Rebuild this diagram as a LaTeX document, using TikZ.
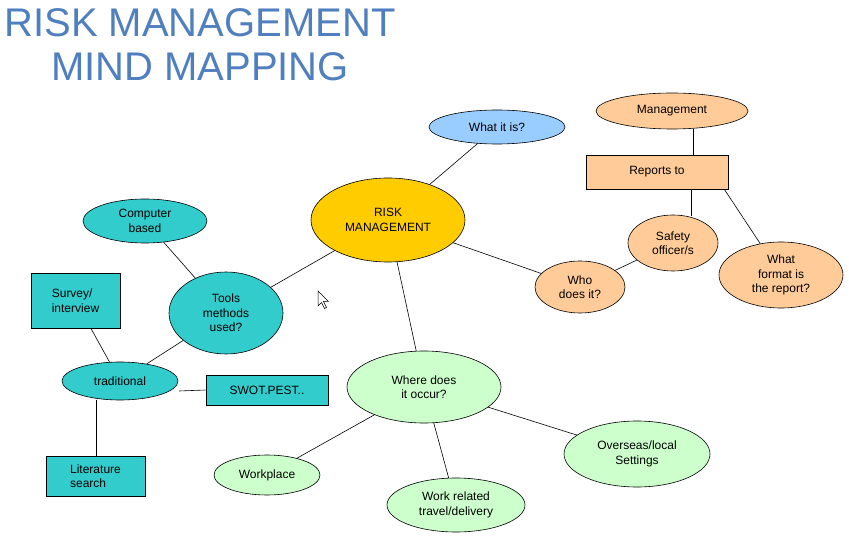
\documentclass[tikz,border=0pt]{standalone}
\usepackage{fontspec}
\setmainfont{Liberation Sans}
\usetikzlibrary{shapes.geometric}
\definecolor{titleblue}{HTML}{4F7FBF}
\definecolor{gold}{HTML}{FFCC00}
\definecolor{lblue}{HTML}{99CCFF}
\definecolor{peach}{HTML}{FFCC99}
\definecolor{teal}{HTML}{33CCCC}
\definecolor{lgreen}{HTML}{CCFFCC}
\tikzset{
  el/.style={ellipse,draw=black,line width=0.6pt,inner sep=0pt,align=center,font=\fontsize{12}{14.5}\selectfont},
  bx/.style={rectangle,draw=black,line width=0.6pt,inner sep=0pt,align=left,font=\fontsize{12}{14.5}\selectfont},
  ln/.style={line width=0.6pt,draw=black}
}
\begin{document}
\begin{tikzpicture}[x=1pt,y=-1pt]
\useasboundingbox (0,0) rectangle (849,537);
\node[titleblue,font=\fontsize{40}{44}\selectfont,align=center] (title) at (200,45) {RISK MANAGEMENT\\MIND MAPPING};

\node[el,fill=gold,minimum width=154,minimum height=84] (rm) at (388,220) {RISK\\MANAGEMENT};
\node[el,fill=lblue,minimum width=136,minimum height=34] (what) at (497,127) {What it is?};
\node[el,fill=peach,minimum width=152,minimum height=36] (mgmt) at (672,111) {Management};
\node[bx,fill=peach,minimum width=142,minimum height=34,align=center] (rep) at (657,172) {Reports to};
\node[el,fill=peach,minimum width=90,minimum height=56] (safe) at (673,243) {Safety\\officer/s};
\node[el,fill=peach,minimum width=124,minimum height=66] (fmt) at (781,275) {What\\format is\\the report?};
\node[el,fill=peach,minimum width=90,minimum height=52] (who) at (580,287) {Who\\does it?};
\node[el,fill=teal,minimum width=124,minimum height=44] (comp) at (145,221) {Computer\\based};
\node[el,fill=teal,minimum width=114,minimum height=82] (tools) at (226,313) {Tools\\methods\\used?};
\node[bx,fill=teal,minimum width=89,minimum height=55] (surv) at (75.5,300.5) {Survey/\\interview};
\node[el,fill=teal,minimum width=116,minimum height=38] (trad) at (120,381) {traditional};
\node[bx,fill=teal,minimum width=122,minimum height=30,align=center] (swot) at (267,390) {SWOT.PEST..};
\node[bx,fill=teal,minimum width=99,minimum height=40] (lit) at (95.5,476) {Literature\\search};
\node[el,fill=lgreen,minimum width=154,minimum height=72] (where) at (424,387) {Where does\\it occur?};
\node[el,fill=lgreen,minimum width=106,minimum height=40] (work) at (267,475) {Workplace};
\node[el,fill=lgreen,minimum width=138,minimum height=54] (travel) at (456,505) {Work related\\travel/delivery};
\node[el,fill=lgreen,minimum width=146,minimum height=66] (over) at (637,454) {Overseas/local\\Settings};

\begin{scope}[on background layer/.style={}]
\end{scope}
\draw[ln] (rm) -- (what);
\draw[ln] (rm) -- (who);
\draw[ln] (who) -- (safe);
\draw[ln] (safe.north) ++(18,0) coordinate (sa) ;
\draw[ln] (rep.south -| 691,0) -- (691,216);
\draw[ln] (rep.north -| 693,0) -- (693,129);
\draw[ln] (rep.south east) ++(-4,0) coordinate (rs);
\draw[ln] (rs) -- (fmt);
\draw[ln] (rm) -- (tools);
\draw[ln] (tools) -- (comp);
\draw[ln] (tools) -- (trad);
\draw[ln] (trad) -- (surv);
\draw[ln] (179,391) -- (swot.west);
\draw[ln] (96,399.5) -- (lit.north -| 96,0);
\draw[ln] (rm) -- (where);
\draw[ln] (where) -- (work);
\draw[ln] (where) -- (travel);
\draw[ln] (where) -- (over);

% mouse cursor
\coordinate (cur) at (318,291);
\draw[black,fill=white,line width=0.5pt] (cur) -- ++(0,15) -- ++(3.5,-3.5) -- ++(3,6) -- ++(2,-1) -- ++(-3,-6) -- ++(5,0) -- cycle;
\end{tikzpicture}
\end{document}
